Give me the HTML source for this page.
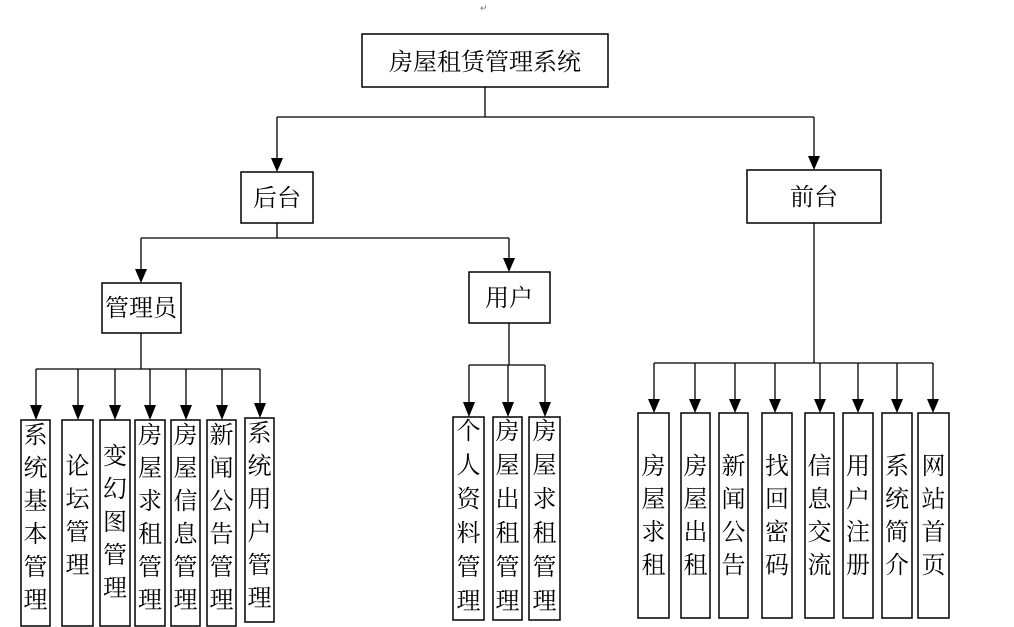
<!DOCTYPE html>
<html><head><meta charset="utf-8"><style>
html,body{margin:0;padding:0;background:#fff;}
svg{display:block;}
text{font-family:"Liberation Serif","Noto Serif CJK SC","Noto Sans CJK SC",serif;fill:#000;}
</style></head><body>
<svg width="1014" height="627" viewBox="0 0 1014 627" xmlns="http://www.w3.org/2000/svg">
<g fill="none" stroke="#000" stroke-width="1.5">
<rect x="362" y="34" width="246" height="53"/>
<rect x="241" y="172" width="72" height="51"/>
<rect x="747" y="170" width="134" height="53"/>
<rect x="102" y="283" width="79" height="50"/>
<rect x="469" y="272" width="81" height="51"/>
<!-- admin children -->
<rect x="21" y="420" width="29" height="206"/>
<rect x="62" y="420" width="31" height="206"/>
<rect x="100" y="420" width="30" height="206"/>
<rect x="135" y="420" width="30" height="206"/>
<rect x="171" y="420" width="29" height="206"/>
<rect x="207" y="420" width="29" height="206"/>
<rect x="245" y="418" width="29" height="204"/>
<!-- user children -->
<rect x="453" y="417" width="31" height="203"/>
<rect x="493" y="417" width="29" height="203"/>
<rect x="529" y="417" width="31" height="203"/>
<!-- front children -->
<rect x="638" y="413" width="31" height="205"/>
<rect x="681" y="413" width="29" height="205"/>
<rect x="719" y="413" width="29" height="205"/>
<rect x="762" y="413" width="30" height="205"/>
<rect x="805" y="413" width="29" height="205"/>
<rect x="843" y="413" width="30" height="205"/>
<rect x="882" y="413" width="30" height="205"/>
<rect x="918" y="413" width="31" height="205"/>
</g>
<g fill="none" stroke="#000" stroke-width="1.3">
<path d="M485 87V117M277 117H814M277 117V158M814 117V156"/>
<path d="M277 223V238M141 238H509M141 238V269M509 238V258"/>
<path d="M814 223V363M654 363H933"/>
<path d="M654 363V399M695 363V399M735 363V399M775 363V399M820 363V399M858 363V399M897 363V399M933 363V399"/>
<path d="M141 333V369M36 369H260"/>
<path d="M36 369V405M78 369V405M115 369V405M150 369V405M186 369V405M222 369V405M260 369V403"/>
<path d="M509 323V365M469 365H545M469 365V402M508 365V402M545 365V402"/>
</g>
<g fill="#000">
<polygon points="271,158 283,158 277,172"/>
<polygon points="808,156 820,156 814,170"/>
<polygon points="135,269 147,269 141,283"/>
<polygon points="503,258 515,258 509,272"/>
<polygon points="30,405 42,405 36,420"/>
<polygon points="72,405 84,405 78,420"/>
<polygon points="109,405 121,405 115,420"/>
<polygon points="144,405 156,405 150,420"/>
<polygon points="180,405 192,405 186,420"/>
<polygon points="216,405 228,405 222,420"/>
<polygon points="254,403 266,403 260,418"/>
<polygon points="463,402 475,402 469,417"/>
<polygon points="502,402 514,402 508,417"/>
<polygon points="539,402 551,402 545,417"/>
<polygon points="648,399 660,399 654,413"/>
<polygon points="689,399 701,399 695,413"/>
<polygon points="729,399 741,399 735,413"/>
<polygon points="769,399 781,399 775,413"/>
<polygon points="814,399 826,399 820,413"/>
<polygon points="852,399 864,399 858,413"/>
<polygon points="891,399 903,399 897,413"/>
<polygon points="927,399 939,399 933,413"/>
</g>
<text x="485" y="70" font-size="24" text-anchor="middle">房屋租赁管理系统</text>
<text x="277" y="206" font-size="24" text-anchor="middle">后台</text>
<text x="814" y="205" font-size="24" text-anchor="middle">前台</text>
<text x="141" y="316" font-size="24" text-anchor="middle">管理员</text>
<text x="509" y="306" font-size="24" text-anchor="middle">用户</text>
<text x="480" y="11" font-size="9" fill="#777" style="fill:#777">↵</text>
<g font-size="24" text-anchor="middle">
<text x="35.5" y="443"><tspan x="35.5">系</tspan><tspan x="35.5" dy="33">统</tspan><tspan x="35.5" dy="33">基</tspan><tspan x="35.5" dy="33">本</tspan><tspan x="35.5" dy="33">管</tspan><tspan x="35.5" dy="33">理</tspan></text>
<text x="77.5" y="474"><tspan x="77.5">论</tspan><tspan x="77.5" dy="33">坛</tspan><tspan x="77.5" dy="33">管</tspan><tspan x="77.5" dy="33">理</tspan></text>
<text x="115" y="464"><tspan x="115">变</tspan><tspan x="115" dy="33">幻</tspan><tspan x="115" dy="33">图</tspan><tspan x="115" dy="33">管</tspan><tspan x="115" dy="33">理</tspan></text>
<text x="150" y="443"><tspan x="150">房</tspan><tspan x="150" dy="33">屋</tspan><tspan x="150" dy="33">求</tspan><tspan x="150" dy="33">租</tspan><tspan x="150" dy="33">管</tspan><tspan x="150" dy="33">理</tspan></text>
<text x="185.5" y="443"><tspan x="185.5">房</tspan><tspan x="185.5" dy="33">屋</tspan><tspan x="185.5" dy="33">信</tspan><tspan x="185.5" dy="33">息</tspan><tspan x="185.5" dy="33">管</tspan><tspan x="185.5" dy="33">理</tspan></text>
<text x="221.5" y="443"><tspan x="221.5">新</tspan><tspan x="221.5" dy="33">闻</tspan><tspan x="221.5" dy="33">公</tspan><tspan x="221.5" dy="33">告</tspan><tspan x="221.5" dy="33">管</tspan><tspan x="221.5" dy="33">理</tspan></text>
<text x="259.5" y="441"><tspan x="259.5">系</tspan><tspan x="259.5" dy="33">统</tspan><tspan x="259.5" dy="33">用</tspan><tspan x="259.5" dy="33">户</tspan><tspan x="259.5" dy="33">管</tspan><tspan x="259.5" dy="33">理</tspan></text>
<text x="468.5" y="439"><tspan x="468.5">个</tspan><tspan x="468.5" dy="34">人</tspan><tspan x="468.5" dy="34">资</tspan><tspan x="468.5" dy="34">料</tspan><tspan x="468.5" dy="34">管</tspan><tspan x="468.5" dy="34">理</tspan></text>
<text x="507.5" y="439"><tspan x="507.5">房</tspan><tspan x="507.5" dy="34">屋</tspan><tspan x="507.5" dy="34">出</tspan><tspan x="507.5" dy="34">租</tspan><tspan x="507.5" dy="34">管</tspan><tspan x="507.5" dy="34">理</tspan></text>
<text x="544.5" y="439"><tspan x="544.5">房</tspan><tspan x="544.5" dy="34">屋</tspan><tspan x="544.5" dy="34">求</tspan><tspan x="544.5" dy="34">租</tspan><tspan x="544.5" dy="34">管</tspan><tspan x="544.5" dy="34">理</tspan></text>
<text x="653.5" y="474"><tspan x="653.5">房</tspan><tspan x="653.5" dy="33">屋</tspan><tspan x="653.5" dy="33">求</tspan><tspan x="653.5" dy="33">租</tspan></text>
<text x="695.5" y="474"><tspan x="695.5">房</tspan><tspan x="695.5" dy="33">屋</tspan><tspan x="695.5" dy="33">出</tspan><tspan x="695.5" dy="33">租</tspan></text>
<text x="733.5" y="474"><tspan x="733.5">新</tspan><tspan x="733.5" dy="33">闻</tspan><tspan x="733.5" dy="33">公</tspan><tspan x="733.5" dy="33">告</tspan></text>
<text x="777" y="474"><tspan x="777">找</tspan><tspan x="777" dy="33">回</tspan><tspan x="777" dy="33">密</tspan><tspan x="777" dy="33">码</tspan></text>
<text x="819.5" y="474"><tspan x="819.5">信</tspan><tspan x="819.5" dy="33">息</tspan><tspan x="819.5" dy="33">交</tspan><tspan x="819.5" dy="33">流</tspan></text>
<text x="858" y="474"><tspan x="858">用</tspan><tspan x="858" dy="33">户</tspan><tspan x="858" dy="33">注</tspan><tspan x="858" dy="33">册</tspan></text>
<text x="897" y="474"><tspan x="897">系</tspan><tspan x="897" dy="33">统</tspan><tspan x="897" dy="33">简</tspan><tspan x="897" dy="33">介</tspan></text>
<text x="933.5" y="474"><tspan x="933.5">网</tspan><tspan x="933.5" dy="33">站</tspan><tspan x="933.5" dy="33">首</tspan><tspan x="933.5" dy="33">页</tspan></text>
</g>
</svg>
</body></html>
